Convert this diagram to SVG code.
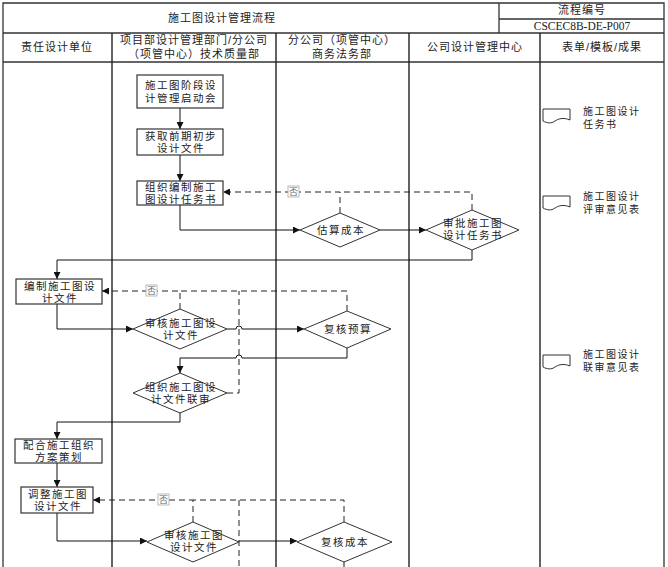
<svg xmlns="http://www.w3.org/2000/svg" width="668" height="567" viewBox="0 0 668 567">
<defs>
<style>
.frame{stroke:#333;stroke-width:1.3;fill:none}
.lane{stroke:#222;stroke-width:1.4;fill:none}
.box{fill:#fff;stroke:#333;stroke-width:1.2}
.dia{fill:#fff;stroke:#333;stroke-width:1}
.flow{fill:none;stroke:#111;stroke-width:1}
.dash{fill:none;stroke:#222;stroke-width:1;stroke-dasharray:6,4}
.doc{fill:#fff;stroke:#333;stroke-width:1}
text{font-family:"Liberation Sans","Noto Sans CJK SC",sans-serif;font-size:10.5px;fill:#222;letter-spacing:1.5px;text-anchor:middle}
.hd{font-size:11px;letter-spacing:1px}
.lt{text-anchor:start;font-size:10px;letter-spacing:1.5px}
.no{font-size:9px;fill:#666;letter-spacing:0}
.nob{fill:#fff;stroke:#aaa;stroke-width:0.8}
.code{font-family:"Liberation Serif",serif;font-size:11.5px;letter-spacing:0}
</style>
<marker id="ah" viewBox="0 0 10 10" refX="10" refY="5" markerWidth="7" markerHeight="7" orient="auto" markerUnits="userSpaceOnUse">
<path d="M0,0 L10,5 L0,10 Z" fill="#111"/>
</marker>
</defs>
<rect width="668" height="567" fill="#fff"/>
<g id="table">
<path class="frame" d="M3,567 V3 H664 V567"/>
<path class="frame" d="M3,33 H664 M3,62 H664 M499,3 V33 M499,19 H664"/>
<path class="lane" d="M112,33 V567 M276,33 V567 M409,33 V567 M540,33 V567"/>
<text class="hd" x="222" y="22">施工图设计管理流程</text>
<text class="hd" x="582" y="14">流程编号</text>
<text class="code" x="582" y="30">CSCEC8B-DE-P007</text>
<text class="hd" x="57" y="51">责任设计单位</text>
<text class="hd" x="194" y="44">项目部设计管理部门/分公司</text>
<text class="hd" x="194" y="58">（项管中心）技术质量部</text>
<text class="hd" x="342" y="44">分公司（项管中心）</text>
<text class="hd" x="342" y="58">商务法务部</text>
<text class="hd" x="475" y="51">公司设计管理中心</text>
<text class="hd" x="602" y="51">表单/模板/成果</text>
</g>
<g id="connectors">
<path class="flow" marker-end="url(#ah)" d="M180,108 V129"/>
<path class="flow" marker-end="url(#ah)" d="M180,155 V181"/>
<path class="flow" marker-end="url(#ah)" d="M180,205 V230 H300"/>
<path class="flow" marker-end="url(#ah)" d="M380,230 H426"/>
<path class="dash" marker-end="url(#ah)" d="M340,213 V192 H223"/>
<path class="dash" d="M472,210 V192 H340"/>
<path class="flow" marker-end="url(#ah)" d="M472,250 V260 H57 V279"/>
<path class="flow" marker-end="url(#ah)" d="M57,304 V329 H133"/>
<path class="dash" marker-end="url(#ah)" d="M180,309 V291 H102"/>
<path class="dash" d="M347,311 V291 H180"/>
<path class="dash" d="M227,393 H239 V291"/>
<path class="flow" marker-end="url(#ah)" d="M227,329 H236 A3,3 0 0 1 242,329 H304"/>
<path class="flow" marker-end="url(#ah)" d="M347,348 V358 H242 A3,3 0 0 0 236,358 H180 V373"/>
<path class="flow" marker-end="url(#ah)" d="M180,413 V422 H57 V439"/>
<path class="flow" marker-end="url(#ah)" d="M57,463 V487"/>
<path class="flow" marker-end="url(#ah)" d="M57,513 V541 H147"/>
<path class="dash" marker-end="url(#ah)" d="M193,522 V500 H93"/>
<path class="dash" d="M344,522 V500 H193"/>
<path class="dash" d="M239,500 V567"/>
<path class="flow" marker-end="url(#ah)" d="M239,541 H297"/>
<path class="flow" d="M344,562 V567"/>
<rect class="nob" x="288" y="186" width="11" height="11"/>
<text class="no" x="293.5" y="195">否</text>
<rect class="nob" x="146" y="285" width="11" height="11"/>
<text class="no" x="151.5" y="294">否</text>
<rect class="nob" x="158" y="494" width="11" height="11"/>
<text class="no" x="163.5" y="503">否</text>
</g>
<g id="n1">
<rect class="box" x="137" y="75" width="86" height="33"/>
<text x="181" y="89">施工图阶段设</text>
<text x="181" y="102">计管理启动会</text>
</g>
<g id="n2">
<rect class="box" x="137" y="129" width="86" height="26"/>
<text x="181" y="140">获取前期初步</text>
<text x="181" y="152">设计文件</text>
</g>
<g id="n3">
<rect class="box" x="137" y="181" width="86" height="24"/>
<text x="181" y="191">组织编制施工</text>
<text x="181" y="203">图设计任务书</text>
</g>
<g id="n4">
<polygon class="dia" points="300,230 340,213 380,230 340,247"/>
<text x="341" y="234">估算成本</text>
</g>
<g id="n5">
<polygon class="dia" points="426,230 472,210 519,230 472,250"/>
<text x="473" y="227">审批施工图</text>
<text x="473" y="239">设计任务书</text>
</g>
<g id="n6">
<rect class="box" x="16" y="279" width="86" height="25"/>
<text x="60" y="290">编制施工图设</text>
<text x="60" y="302">计文件</text>
</g>
<g id="n7">
<polygon class="dia" points="133,329 180,309 227,329 180,349"/>
<text x="181" y="327">审核施工图设</text>
<text x="181" y="339">计文件</text>
</g>
<g id="n8">
<polygon class="dia" points="304,329 347,311 391,329 347,348"/>
<text x="348" y="333">复核预算</text>
</g>
<g id="n9">
<polygon class="dia" points="133,393 180,373 227,393 180,413"/>
<text x="181" y="391">组织施工图设</text>
<text x="181" y="403">计文件联审</text>
</g>
<g id="n10">
<rect class="box" x="15" y="439" width="87" height="24"/>
<text x="59" y="449">配合施工组织</text>
<text x="59" y="461">方案策划</text>
</g>
<g id="n11">
<rect class="box" x="21" y="487" width="72" height="26"/>
<text x="58" y="498">调整施工图</text>
<text x="58" y="510">设计文件</text>
</g>
<g id="n12">
<polygon class="dia" points="147,542 193,522 239,542 193,562"/>
<text x="194" y="539">审核施工图</text>
<text x="194" y="551">设计文件</text>
</g>
<g id="n13">
<polygon class="dia" points="297,542 344,522 392,542 344,562"/>
<text x="345" y="546">复核成本</text>
</g>
<g id="d1">
<path class="doc" d="M543,109 H570 V120 C563,117 558,119 555,121 C551,124 547,123 543,121 Z"/>
<text class="lt" x="583" y="115">施工图设计</text>
<text class="lt" x="583" y="128">任务书</text>
</g>
<g id="d2">
<path class="doc" d="M543,196 H570 V207 C563,204 558,206 555,208 C551,211 547,210 543,208 Z"/>
<text class="lt" x="583" y="200">施工图设计</text>
<text class="lt" x="583" y="213">评审意见表</text>
</g>
<g id="d3">
<path class="doc" d="M543,355 H570 V366 C563,363 558,365 555,367 C551,370 547,369 543,367 Z"/>
<text class="lt" x="583" y="358">施工图设计</text>
<text class="lt" x="583" y="371">联审意见表</text>
</g>
</svg>
